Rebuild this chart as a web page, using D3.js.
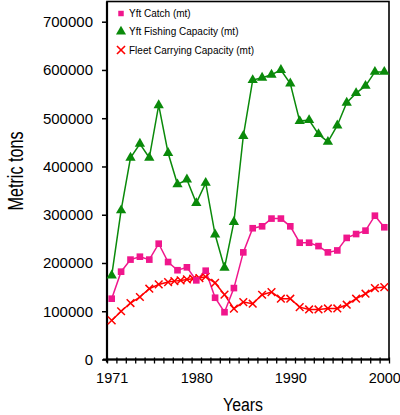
<!doctype html>
<html>
	<head>
		<title>Yellowfin catch and capacity</title>
		<style>
			body{
				margin: 0;
				background-color: white;
			}
			svg text{
				font-family: Arial, "Liberation Sans", sans-serif;
				fill: black;
			}
		</style>
	</head>
	<body>
		<svg id="chart" width="400" height="415"></svg>
		<script src="https://d3js.org/d3.v7.min.js"></script>
		<script>
			var years = [1971, 1972, 1973, 1974, 1975, 1976, 1977, 1978, 1979, 1980,
				1981, 1982, 1983, 1984, 1985, 1986, 1987, 1988, 1989, 1990,
				1991, 1992, 1993, 1994, 1995, 1996, 1997, 1998, 1999, 2000];

			// Yft catch (mt)
			var catchValues = [126000, 182000, 207000, 213000, 207000, 240000, 202000, 185000, 191000, 164000,
				184000, 128000, 98000, 148000, 222000, 272000, 276000, 292000, 292000, 276000,
				242000, 242000, 235000, 222000, 226000, 252000, 260000, 267000, 298000, 274000];

			// Yft fishing capacity (mt)
			var fishingValues = [174000, 309000, 418000, 447000, 418000, 527000, 428000, 363000, 373000, 324000,
				366000, 259000, 190000, 285000, 463000, 579000, 584000, 590000, 600000, 572000,
				494000, 496000, 467000, 451000, 485000, 532000, 552000, 567000, 596000, 596000];

			// Fleet carrying capacity (mt), has extra points between 1977 and 1981
			var fleetYears = [1971, 1972, 1973, 1974, 1975, 1976, 1977, 1977.67, 1978.33, 1979,
				1979.67, 1980.33, 1981, 1982, 1983, 1984, 1985, 1986, 1987, 1988,
				1989, 1990, 1991, 1992, 1993, 1994, 1995, 1996, 1997, 1998,
				1999, 2000];
			var fleetValues = [81000, 100000, 117000, 129500, 146700, 155600, 160400, 162400, 163900, 166000,
				167400, 168700, 171500, 158700, 134500, 105500, 118900, 115600, 134200, 139600,
				126000, 126000, 108500, 103700, 103700, 105800, 105800, 113500, 126000, 136300,
				148000, 150000];

			var yTicks = [0, 100000, 200000, 300000, 400000, 500000, 600000, 700000];
			var xLabels = [1971, 1980, 1990, 2000];

			var legendNames = ["Yft Catch (mt)", "Yft Fishing Capacity (mt)", "Fleet Carrying Capacity (mt)"];
			var pink = "#f0168c", green = "#0a8a0a", red = "#ff0000";

			// note: "top" is taken by window.top, so plot* names
			var plotLeft = 107, plotRight = 389, plotTop = 1.5, plotBottom = 359.5;

			var svg = d3.select("#chart");

			var x = d3.scaleLinear().domain([1970.5, 2000.5]).range([plotLeft, plotRight]);
			var y = d3.scaleLinear().domain([0, 700000]).range([359.5, 21.7]);

			// frame
			svg.append("rect")
				.attr("x", plotLeft).attr("y", plotTop)
				.attr("width", plotRight - plotLeft).attr("height", plotBottom - plotTop)
				.style("fill", "none").style("stroke", "black").style("stroke-width", 1.6);

			// y axis
			var yAxis = svg.append("g")
				.attr("transform", "translate(" + plotLeft + ",0)")
				.call(d3.axisLeft(y).tickValues(yTicks).tickSize(5).tickPadding(9).tickFormat(d3.format("d")));
			yAxis.select(".domain").remove();
			yAxis.selectAll("line").style("stroke-width", 1.5);
			yAxis.selectAll("text").style("font-size", "15px").attr("font-family", null);
			svg.append("line")
				.attr("x1", plotLeft).attr("x2", plotLeft).attr("y1", plotTop).attr("y2", plotBottom + 3)
				.style("stroke", "black").style("stroke-width", 2.2);

			// x axis, ticks between the years
			var boundaries = years.map(function(yr){ return yr - 0.5; }).concat([2000.5]);
			var xAxis = svg.append("g")
				.attr("transform", "translate(0," + plotBottom + ")")
				.call(d3.axisBottom(x).tickValues(boundaries).tickSize(4).tickFormat(""));
			xAxis.select(".domain").remove();
			xAxis.selectAll("line").attr("y1", -2).style("stroke-width", 1.3);
			svg.append("line")
				.attr("x1", plotLeft - 4).attr("x2", plotRight).attr("y1", plotBottom).attr("y2", plotBottom)
				.style("stroke", "black").style("stroke-width", 2.2);

			var xLab = svg.append("g")
				.attr("transform", "translate(0," + plotBottom + ")")
				.call(d3.axisBottom(x).tickValues(xLabels).tickSize(0).tickPadding(13).tickFormat(d3.format("d")));
			xLab.select(".domain").remove();
			xLab.selectAll("text").style("font-size", "14.5px").attr("font-family", null);

			// axis titles
			svg.append("text")
				.attr("transform", "translate(23,171) rotate(-90)")
				.attr("text-anchor", "middle")
				.attr("textLength", 79).attr("lengthAdjust", "spacingAndGlyphs")
				.style("font-size", "22px")
				.text("Metric tons");
			svg.append("text")
				.attr("x", 243).attr("y", 411)
				.attr("text-anchor", "middle")
				.attr("textLength", 40).attr("lengthAdjust", "spacingAndGlyphs")
				.style("font-size", "18px")
				.text("Years");

			// series lines
			function drawLine(xs, vals, color){
				var pts = xs.map(function(d, i){ return [d, vals[i]]; });
				svg.append("path")
					.datum(pts)
					.attr("d", d3.line().x(function(d){ return x(d[0]); }).y(function(d){ return y(d[1]); }))
					.style("fill", "none").style("stroke", color).style("stroke-width", 1.5);
				return pts;
			}

			var fleetPts = drawLine(fleetYears, fleetValues, red);
			var catchPts = drawLine(years, catchValues, pink);
			var fishPts = drawLine(years, fishingValues, green);

			var square = d3.symbol().type(d3.symbolSquare).size(44);
			var triangle = d3.symbol().type(d3.symbolTriangle).size(46);
			var cross = d3.symbol().type(d3.symbolX).size(40);

			svg.append("g").selectAll("path").data(fleetPts).enter().append("path")
				.attr("d", cross)
				.attr("transform", function(d){ return "translate(" + x(d[0]) + "," + y(d[1]) + ")"; })
				.style("fill", "none").style("stroke", red).style("stroke-width", 1.5);
			svg.append("g").selectAll("path").data(catchPts).enter().append("path")
				.attr("d", square)
				.attr("transform", function(d){ return "translate(" + x(d[0]) + "," + y(d[1]) + ")"; })
				.style("fill", pink);
			svg.append("g").selectAll("path").data(fishPts).enter().append("path")
				.attr("d", triangle)
				.attr("transform", function(d){ return "translate(" + x(d[0]) + "," + y(d[1]) + ")"; })
				.style("fill", green);

			// legend
			var legend = svg.append("g").attr("transform", "translate(121,0)");
			var legendRows = [13.5, 31.5, 50];
			legend.append("path").attr("d", d3.symbol().type(d3.symbolSquare).size(30))
				.attr("transform", "translate(0," + legendRows[0] + ")").style("fill", pink);
			legend.append("path").attr("d", d3.symbol().type(d3.symbolTriangle).size(44))
				.attr("transform", "translate(0," + legendRows[1] + ")").style("fill", green);
			legend.append("path").attr("d", d3.symbol().type(d3.symbolX).size(44))
				.attr("transform", "translate(0," + legendRows[2] + ")")
				.style("fill", "none").style("stroke", red).style("stroke-width", 1.6);
			legendNames.forEach(function(name, i){
				legend.append("text")
					.attr("x", 8).attr("y", legendRows[i])
					.attr("dy", "0.35em")
					.style("font-size", "10px")
					.text(name);
			});
		</script>
	</body>
</html>
